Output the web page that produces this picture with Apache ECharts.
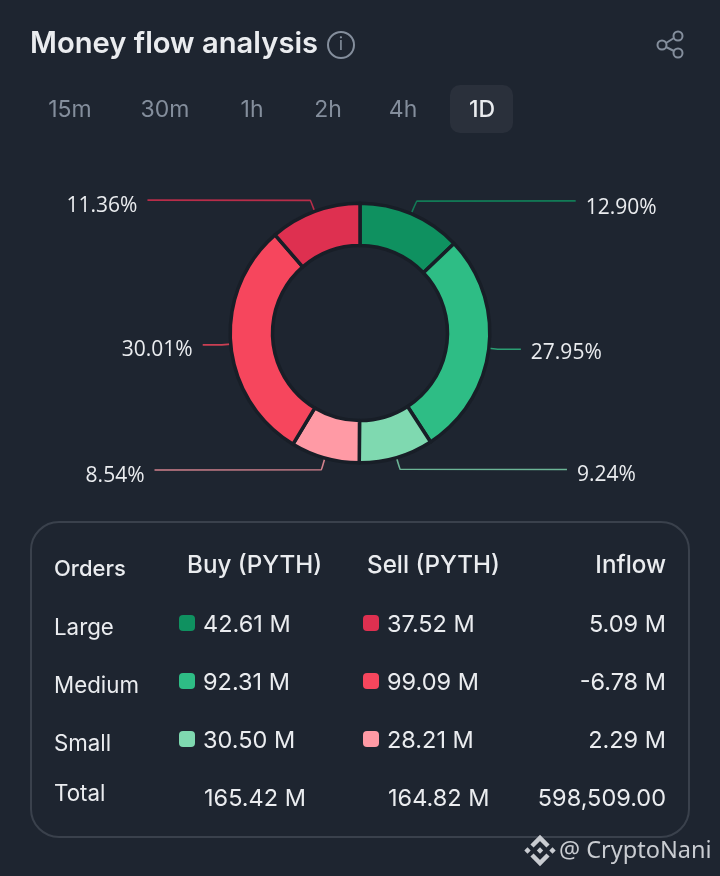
<!DOCTYPE html>
<html><head><meta charset="utf-8">
<style>html,body{margin:0;padding:0;background:#1e2530}#c{width:720px;height:876px}</style>
<script src="https://cdn.jsdelivr.net/npm/echarts@6/dist/echarts.min.js"></script>
</head><body><div id="c"></div>
<script>
const sliceNames = ['Large buy','Medium buy','Small buy','Small sell','Medium sell','Large sell'];
const sliceValues = [12.90,27.95,9.24,8.54,30.01,11.36];
const sliceColors = ['#0f9160','#2ebd85','#7fd9b0','#ff9aa5','#f6465d','#de3050'];
const lineLengths = [[14,159],[9,23],[12.5,167],[12.5,167],[9,19],[12,163]];
const labelDrops = [7,4,5,6,5,6];
const tabs = ['15m','30m','1h','2h','4h','1D'];
const tabCentres = [70,165,252,328,403,482];
const headers = ['Orders','Buy (PYTH)','Sell (PYTH)','Inflow'];
const rowNames = ['Large','Medium','Small','Total'];
const buyValues = ['42.61 M','92.31 M','30.50 M','165.42 M'];
const sellValues = ['37.52 M','99.09 M','28.21 M','164.82 M'];
const inflowValues = ['5.09 M','-6.78 M','2.29 M','598,509.00'];
const rowNameY = [628,686,744,794];
const rowValueY = [625,683,741,799];
const buySwatch = ['#0f9160','#2ebd85','#7fd9b0'];
const sellSwatch = ['#de3050','#f6465d','#ff9aa5'];

const BG='#1e2530', FG='#eaecef', FONT='Inter';
const T=(x,y,text,o={})=>({type:'text',silent:true,style:Object.assign({x,y,text,fill:FG,font:`${o.weight||400} ${o.size||22}px ${o.family||FONT}`,textAlign:o.align||'left',textVerticalAlign:'middle'},o.extra||{})});
const g=[];
g.push(T(30,44,'Money flow analysis',{size:29.2,weight:600}));
g.push({type:'circle',silent:true,shape:{cx:341,cy:45,r:13},style:{fill:'none',stroke:'#848e9c',lineWidth:2}});
g.push(T(341,45,'i',{size:18,weight:400,align:'center',extra:{fill:'#848e9c'}}));
g.push({type:'circle',silent:true,shape:{cx:662,cy:45,r:4.5},style:{fill:'none',stroke:'#848e9c',lineWidth:2}});
g.push({type:'circle',silent:true,shape:{cx:678,cy:36,r:4.5},style:{fill:'none',stroke:'#848e9c',lineWidth:2}});
g.push({type:'circle',silent:true,shape:{cx:678,cy:53,r:4.5},style:{fill:'none',stroke:'#848e9c',lineWidth:2}});
g.push({type:'line',silent:true,shape:{x1:666,y1:43,x2:674,y2:38},style:{stroke:'#848e9c',lineWidth:2}});
g.push({type:'line',silent:true,shape:{x1:666,y1:47,x2:674,y2:51},style:{stroke:'#848e9c',lineWidth:2}});
g.push({type:'rect',silent:true,shape:{x:450,y:85,width:63,height:48,r:10},style:{fill:'#2a303b'}});
tabs.forEach((t,i)=>g.push(T(tabCentres[i],110,t,{size:23,align:'center',weight:i===5?500:400,extra:{fill:i===5?FG:'#848e9c'}})));
g.push({type:'rect',silent:true,shape:{x:31,y:522,width:658,height:315,r:28},style:{fill:'none',stroke:'#3a414c',lineWidth:2}});
g.push(T(54,569,headers[0],{size:22,weight:500}));
g.push(T(187,566,headers[1],{size:24.2,weight:500}));
g.push(T(367,566,headers[2],{size:24.2,weight:500}));
g.push(T(666,566,headers[3],{size:24.2,weight:500,align:'right'}));
rowNames.forEach((n,i)=>{
  g.push(T(54,rowNameY[i],n,{size:22.3}));
  const tot=i===3;
  g.push(T(tot?204:203,rowValueY[i],buyValues[i],{size:23.5}));
  g.push(T(tot?388:387,rowValueY[i],sellValues[i],{size:23.5}));
  g.push(T(666,rowValueY[i],inflowValues[i],{size:23.5,align:'right'}));
  if(!tot){
    g.push({type:'rect',silent:true,shape:{x:179,y:rowValueY[i]-10,width:16,height:16,r:4},style:{fill:buySwatch[i]}});
    g.push({type:'rect',silent:true,shape:{x:363,y:rowValueY[i]-10,width:16,height:16,r:4},style:{fill:sellSwatch[i]}});
  }
});
const W='#c9ccd1';
g.push({type:'polyline',silent:true,shape:{points:[[532,846],[540,838],[548,846]]},style:{fill:'none',stroke:W,lineWidth:4.5}});
g.push({type:'polyline',silent:true,shape:{points:[[532,855],[540,863],[548,855]]},style:{fill:'none',stroke:W,lineWidth:4.5}});
[[527.5,850.5,3.2],[552.5,850.5,3.2],[540,850.5,3.2]].forEach(([x,y,r])=>{
  g.push({type:'polygon',silent:true,shape:{points:[[x,y-r],[x+r,y],[x,y+r],[x-r,y]]},style:{fill:W}});
});
g.push(T(559,851,'@ CryptoNani',{size:23.5,family:'"Noto Sans"',extra:{fill:W}}));

const chart=echarts.init(document.getElementById('c'),null,{renderer:'canvas'});
chart.setOption({
  backgroundColor:BG,animation:false,
  graphic:{elements:g},
  series:[{
    type:'pie',center:[360,333],radius:[87.5,129.8],startAngle:90,clockwise:true,
    avoidLabelOverlap:false,minShowLabelAngle:0,
    itemStyle:{borderColor:'#181e27',borderWidth:3.5},
    label:{show:true,position:'outside',color:FG,fontSize:21,fontFamily:'"Open Sans"',distanceToLabelLine:10,
      formatter:p=>p.value.toFixed(2)+'%'},
    labelLayout:p=>({dy:labelDrops[p.dataIndex]}),
    labelLine:{show:true,smooth:0.05,lineStyle:{width:1.6,opacity:0.8}},
    data:sliceNames.map((name,i)=>({name,value:sliceValues[i],itemStyle:{color:sliceColors[i]},
      labelLine:{length:lineLengths[i][0],length2:lineLengths[i][1]}}))
  }]
});
</script></body></html>
